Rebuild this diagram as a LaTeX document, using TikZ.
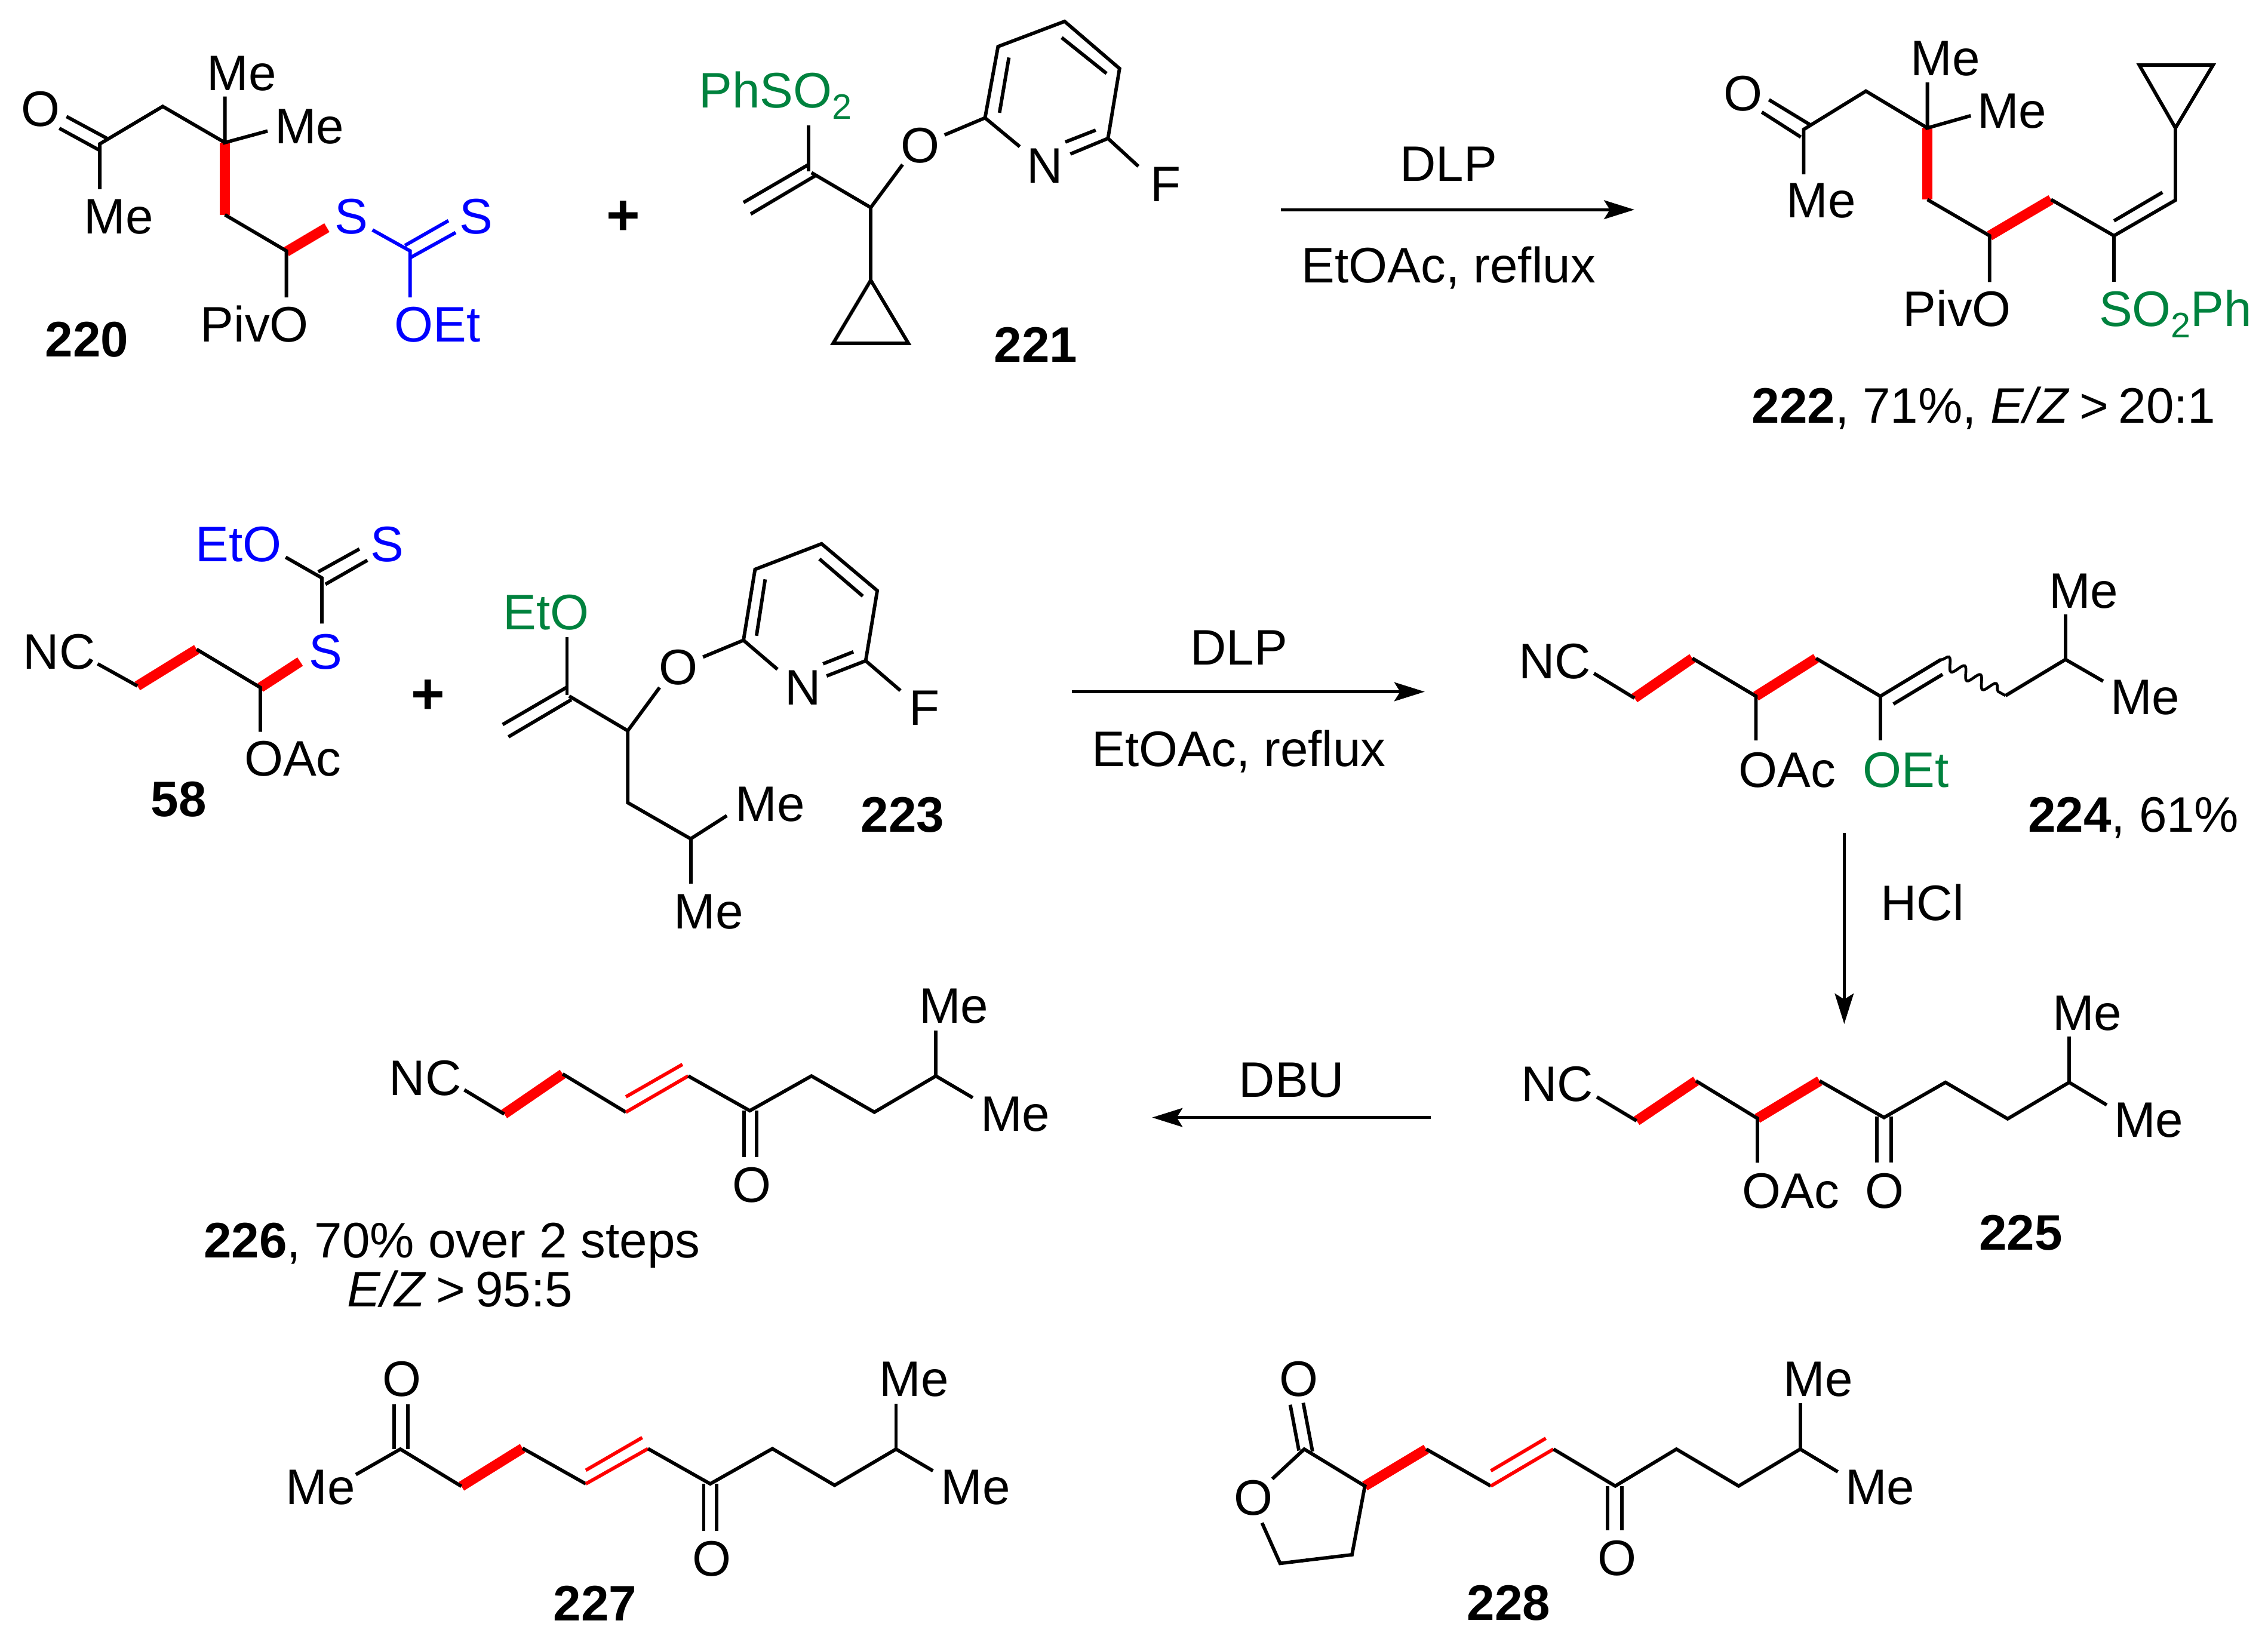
\documentclass[tikz,border=0pt]{standalone}
\usepackage{fontspec}
\setmainfont{Liberation Sans}
\usetikzlibrary{arrows.meta,decorations.pathmorphing}
\definecolor{cblue}{RGB}{0,0,255}
\definecolor{cgreen}{RGB}{0,130,62}
\definecolor{cred}{RGB}{255,0,0}
\newcommand{\subtwo}{\raisebox{-8pt}{\fontsize{24.5}{24.5}\selectfont 2}}
\newcommand{\gtsign}{\hspace{.2em}>\hspace{.2em}}
\tikzset{
  bond/.style={draw=black,line width=2.4pt,line join=miter,line cap=butt},
  bluebond/.style={bond,draw=cblue},
  hot/.style={draw=cred,line width=7pt,line cap=butt},
  hotthin/.style={draw=cred,line width=2.4pt,line cap=butt},
  rxn/.style={draw=black,line width=2.2pt,-{Stealth[length=21pt,width=13pt,inset=4pt]}},
  lab/.style={inner sep=0pt,outer sep=0pt,font=\fontsize{34.5}{36}\selectfont,text height=25pt,text depth=0pt,anchor=center},
  blk/.style={lab,text=black},
  blu/.style={lab,text=cblue},
  grn/.style={lab,text=cgreen},
  num/.style={lab,font=\fontsize{34.5}{36}\selectfont\bfseries}
}
\begin{document}
\begin{tikzpicture}[x=1pt,y=-1pt]
\useasboundingbox (0,0) rectangle (1568,1128.8);
% ---------- 220
\draw[hot] (155.5,98.6) -- (155.5,148.5);
\draw[hot] (198,174) -- (226,157.4);
\draw[bond] (155.5,66.7) -- (155.5,98.6) -- (185,90.6);
\draw[bond] (69,130.8) -- (69,99.5) -- (112.5,73.6) -- (155.5,98.6);
\draw[bond] (46,80.6) -- (74,95.7);
\draw[bond] (41,88.7) -- (69,104);
\draw[bond] (155.5,148.5) -- (198,173.5) -- (198,205.7);
\draw[bluebond] (257.5,159) -- (283.5,173.5) -- (283.5,205.7);
\draw[bluebond] (280,169.7) -- (310,152.6);
\draw[bluebond] (284,178) -- (315,160.8);
\node[blk] (a1) at (28,75) {O};
\node[blk] (a2) at (167,50) {Me};
\node[blk] (a3) at (214,86.6) {Me};
\node[blk] (a4) at (82,149) {Me};
\node[blu] (a5) at (243,149) {S};
\node[blu] (a6) at (329,149) {S};
\node[blu] (a7) at (302.5,224) {OEt};
\node[blk] (a8) at (176,224) {PivO};
\node[num] (n220) at (60,234) {220};
\node[lab,font=\fontsize{40}{40}\selectfont\bfseries] (plus1) at (431,150) {+};
% ---------- 221
\draw[bond] (559,86.8) -- (559,118.5);
\draw[bond] (559,113.8) -- (514,140);
\draw[bond] (564,121.3) -- (519,148);
\draw[bond] (561,119.4) -- (602,143.5) -- (624,113.8);
\draw[bond] (602,143.5) -- (602,193.8);
\draw[bond] (602,193.8) -- (576,237.4) -- (628,237.4) -- cycle;
\draw[bond] (653,93.3) -- (681,81.5) -- (690,32.2) -- (736,14.8) -- (774,47.4) -- (766,95.7) -- (787,115);
\draw[bond] (681,81.5) -- (705,101.4);
\draw[bond] (740,106.5) -- (766,95.7);
\draw[bond] (736.5,98.2) -- (757.5,90);
\draw[bond] (697.5,39.8) -- (691,78);
\draw[bond] (734,26) -- (765,50.8);
\node[grn] (b1) at (536,62) {PhSO\subtwo};
\node[blk] (b2) at (636,100) {O};
\node[blk] (b3) at (722.5,114) {N};
\node[blk] (b4) at (806,127) {F};
\node[num] (n221) at (716,238) {221};
% ---------- arrow 1
\coordinate (r1s) at (885.5,145);
\coordinate (r1e) at (1130,145);
\draw[rxn] (r1s) -- (r1e);
\node[blk] (r1a) at (1001.5,113) {DLP};
\node[blk] (r1b) at (1001.5,183) {EtOAc, reflux};
% ---------- 222
\draw[hot] (1332.5,88.5) -- (1332.5,138);
\draw[hot] (1375.5,163) -- (1418,138);
\draw[bond] (1332.5,57) -- (1332.5,88.5) -- (1362.5,80);
\draw[bond] (1247,120.5) -- (1247,89.5) -- (1290,63) -- (1332.5,88.5);
\draw[bond] (1223,69) -- (1251.5,86.3);
\draw[bond] (1218,77.5) -- (1245,94.8);
\draw[bond] (1332.5,138) -- (1375.5,163) -- (1375.5,195);
\draw[bond] (1418,138) -- (1461.5,163) -- (1504,138.4) -- (1504,88.5);
\draw[bond] (1461.5,163) -- (1461.5,195);
\draw[bond] (1461.5,152.7) -- (1495,133);
\draw[bond] (1504,88.5) -- (1479,45) -- (1530,45) -- cycle;
\node[blk] (c1) at (1205,64) {O};
\node[blk] (c2) at (1345,39.6) {Me};
\node[blk] (c3) at (1391,76) {Me};
\node[blk] (c4) at (1259,138) {Me};
\node[blk] (c5) at (1353,213) {PivO};
\node[grn] (c6) at (1504,213) {SO\subtwo Ph};
\node[blk] (c7) at (1371.5,280) {\textbf{222}, 71\%, \textit{E/Z}\gtsign 20:1};
% ---------- 58
\draw[hot] (95,474.3) -- (136,449);
\draw[hot] (180,475.4) -- (207.5,457.5);
\draw[bond] (67.5,459) -- (95,474.3);
\draw[bond] (136,449) -- (180,475.4) -- (180,506);
\draw[bond] (197.5,385.3) -- (222.5,399.6) -- (222.5,431.2);
\draw[bond] (220,395.4) -- (248.5,379.6);
\draw[bond] (225,404) -- (254,387.4);
\node[blu] (d1) at (165,375.8) {EtO};
\node[blu] (d2) at (267.5,375.8) {S};
\node[blu] (d3) at (225,450) {S};
\node[blk] (d4) at (41,450) {NC};
\node[blk] (d5) at (202.5,524) {OAc};
\node[num] (n58) at (123.5,552) {58};
\node[lab,font=\fontsize{40}{40}\selectfont\bfseries] (plus2) at (296,481) {+};
% ---------- 223
\draw[bond] (392,440.6) -- (392,480.6);
\draw[bond] (391.5,475.4) -- (347.5,501);
\draw[bond] (395,483.8) -- (351.5,509.5);
\draw[bond] (393.5,481.3) -- (434,505.3) -- (456,475.4);
\draw[bond] (486,454.3) -- (514,442.7) -- (522,393.7) -- (568,376) -- (606.5,408.4) -- (598.5,456.9) -- (622.5,477.5);
\draw[bond] (514,442.7) -- (537.5,462.8);
\draw[bond] (571.5,467.4) -- (598.5,456.9);
\draw[bond] (569,459) -- (590,450.7);
\draw[bond] (529,400.6) -- (523,439.6);
\draw[bond] (566.5,386.5) -- (596.5,412.2);
\draw[bond] (434,505.3) -- (434,555) -- (477.5,580) -- (502.5,564);
\draw[bond] (477.5,580) -- (477.5,611);
\node[grn] (e1) at (377.5,422.7) {EtO};
\node[blk] (e2) at (469,461) {O};
\node[blk] (e3) at (555,475) {N};
\node[blk] (e4) at (639,489) {F};
\node[blk] (e5) at (532.5,555.4) {Me};
\node[blk] (e6) at (490,629.5) {Me};
\node[num] (n223) at (624,562.8) {223};
% ---------- arrow 2
\coordinate (r2s) at (741,478.3);
\coordinate (r2e) at (985,478.3);
\draw[rxn] (r2s) -- (r2e);
\node[blk] (r2a) at (856.5,447) {DLP};
\node[blk] (r2b) at (856.5,517.4) {EtOAc, reflux};
% ---------- 224
\draw[hot] (1130,482.7) -- (1170,455.2);
\draw[hot] (1214,481.4) -- (1255.5,455.2);
\draw[bond] (1102,465.6) -- (1130,482.7);
\draw[bond] (1170,455.2) -- (1214,481.4) -- (1214,512);
\draw[bond] (1255.5,455.2) -- (1300,481.4) -- (1342,456);
\draw[bond] (1300,481.4) -- (1300,512);
\draw[bond] (1309,486.8) -- (1343,466.3);
\draw[draw=black,line width=1.9pt,decorate,decoration={snake,segment length=12.5pt,amplitude=4.2pt}] (1342,456) -- (1386.5,481);
\draw[bond] (1386.5,481) -- (1428,456) -- (1454,471);
\draw[bond] (1428,456) -- (1428,425);
\node[blk] (f1) at (1075,456.8) {NC};
\node[blk] (f2) at (1440.5,407.8) {Me};
\node[blk] (f3) at (1483,481.4) {Me};
\node[blk] (f4) at (1235.5,531.7) {OAc};
\node[grn] (f5) at (1317.5,531.7) {OEt};
\node[blk] (f6) at (1475,563) {\textbf{224}, 61\%};
% ---------- arrow 3
\coordinate (r3s) at (1275,576);
\coordinate (r3e) at (1275,708);
\draw[rxn] (r3s) -- (r3e);
\node[blk] (r3a) at (1329,624) {HCl};
% ---------- 225
\draw[hot] (1131.5,775) -- (1172.5,747.4);
\draw[hot] (1215,773.3) -- (1258,747.4);
\draw[bond] (1104,758.5) -- (1131.5,775);
\draw[bond] (1172.5,747.4) -- (1215,773.3) -- (1215,804);
\draw[bond] (1258,747.4) -- (1302.5,772.7) -- (1345,748.4) -- (1388,773.6) -- (1430.5,748.4) -- (1456.5,764);
\draw[bond] (1430.5,748.4) -- (1430.5,716.5);
\draw[bond] (1297.5,772) -- (1297.5,804);
\draw[bond] (1307.5,772) -- (1307.5,804);
\node[blk] (g1) at (1076.5,749) {NC};
\node[blk] (g2) at (1443,700) {Me};
\node[blk] (g3) at (1485.5,773.6) {Me};
\node[blk] (g4) at (1238,823) {OAc};
\node[blk] (g5) at (1303,823) {O};
\node[num] (n225) at (1397,851.7) {225};
% ---------- arrow 4
\coordinate (r4s) at (989,772.7);
\coordinate (r4e) at (796.5,772.7);
\draw[rxn] (r4s) -- (r4e);
\node[blk] (r4a) at (893,746) {DBU};
% ---------- 226
\draw[hot] (348.6,770.3) -- (389,742.6);
\draw[bond] (321,753.6) -- (348.6,770.3);
\draw[bond] (389,742.6) -- (432.7,769);
\draw[hotthin] (432.7,769) -- (475.8,744);
\draw[hotthin] (432.7,758.4) -- (471.8,736);
\draw[bond] (475.8,744) -- (518.4,768) -- (561,744) -- (604.5,769) -- (647,744) -- (672.5,759);
\draw[bond] (647,744) -- (647,712.7);
\draw[bond] (514.5,768) -- (514.5,800);
\draw[bond] (523.2,768) -- (523.2,800);
\node[blk] (h1) at (294,745) {NC};
\node[blk] (h2) at (659.4,695) {Me};
\node[blk] (h3) at (702,769.5) {Me};
\node[blk] (h4) at (519.6,818.7) {O};
\node[blk] (h5) at (312.5,857) {\textbf{226}, 70\% over 2 steps};
\node[blk] (h6) at (318,891) {\textit{E/Z}\gtsign 95:5};
% ---------- 227
\draw[hot] (319,1027.7) -- (361.3,1001.4);
\draw[bond] (246,1019.6) -- (276.8,1002) -- (319,1027.7);
\draw[bond] (272.4,1002) -- (272.4,971);
\draw[bond] (281.9,1002) -- (281.9,971);
\draw[bond] (361.3,1001.4) -- (405,1026);
\draw[hotthin] (405,1026) -- (448,1001.7);
\draw[hotthin] (405,1016.6) -- (444,994);
\draw[bond] (448,1001.7) -- (491,1026) -- (534,1001.7) -- (577,1027) -- (619.5,1002) -- (645,1017);
\draw[bond] (619.5,1002) -- (619.5,970.4);
\draw[bond] (486.5,1026) -- (486.5,1058.4);
\draw[bond] (495.5,1026) -- (495.5,1058.4);
\node[blk] (i1) at (278,953) {O};
\node[blk] (i2) at (221.5,1027.7) {Me};
\node[blk] (i3) at (632,953) {Me};
\node[blk] (i4) at (674.5,1027.7) {Me};
\node[blk] (i5) at (492,1077) {O};
\node[num] (n227) at (411.4,1108) {227};
% ---------- 228
\draw[hot] (943.6,1027.5) -- (986,1002);
\draw[bond] (892,971.3) -- (898,1003);
\draw[bond] (901,970) -- (907.4,1003.6);
\draw[bond] (879.6,1022.6) -- (901.7,1002) -- (943.6,1027.5) -- (934.7,1075) -- (885,1081) -- (872.5,1053);
\draw[bond] (986,1002) -- (1030.7,1027.5);
\draw[hotthin] (1030.7,1027.5) -- (1074,1002);
\draw[hotthin] (1030.7,1017) -- (1068.7,994.5);
\draw[bond] (1074,1002) -- (1116.7,1027.5) -- (1159,1002) -- (1202,1027.5) -- (1244.6,1002) -- (1270.6,1017.7);
\draw[bond] (1244.6,1002) -- (1244.6,970.3);
\draw[bond] (1111.4,1027.5) -- (1111.4,1058);
\draw[bond] (1121.3,1027.5) -- (1121.3,1058);
\node[blk] (j1) at (898,953) {O};
\node[blk] (j2) at (866.5,1035) {O};
\node[blk] (j3) at (1257,953) {Me};
\node[blk] (j4) at (1299.7,1027.5) {Me};
\node[blk] (j5) at (1117.8,1076.7) {O};
\node[num] (n228) at (1043,1107.7) {228};
\end{tikzpicture}
\end{document}
